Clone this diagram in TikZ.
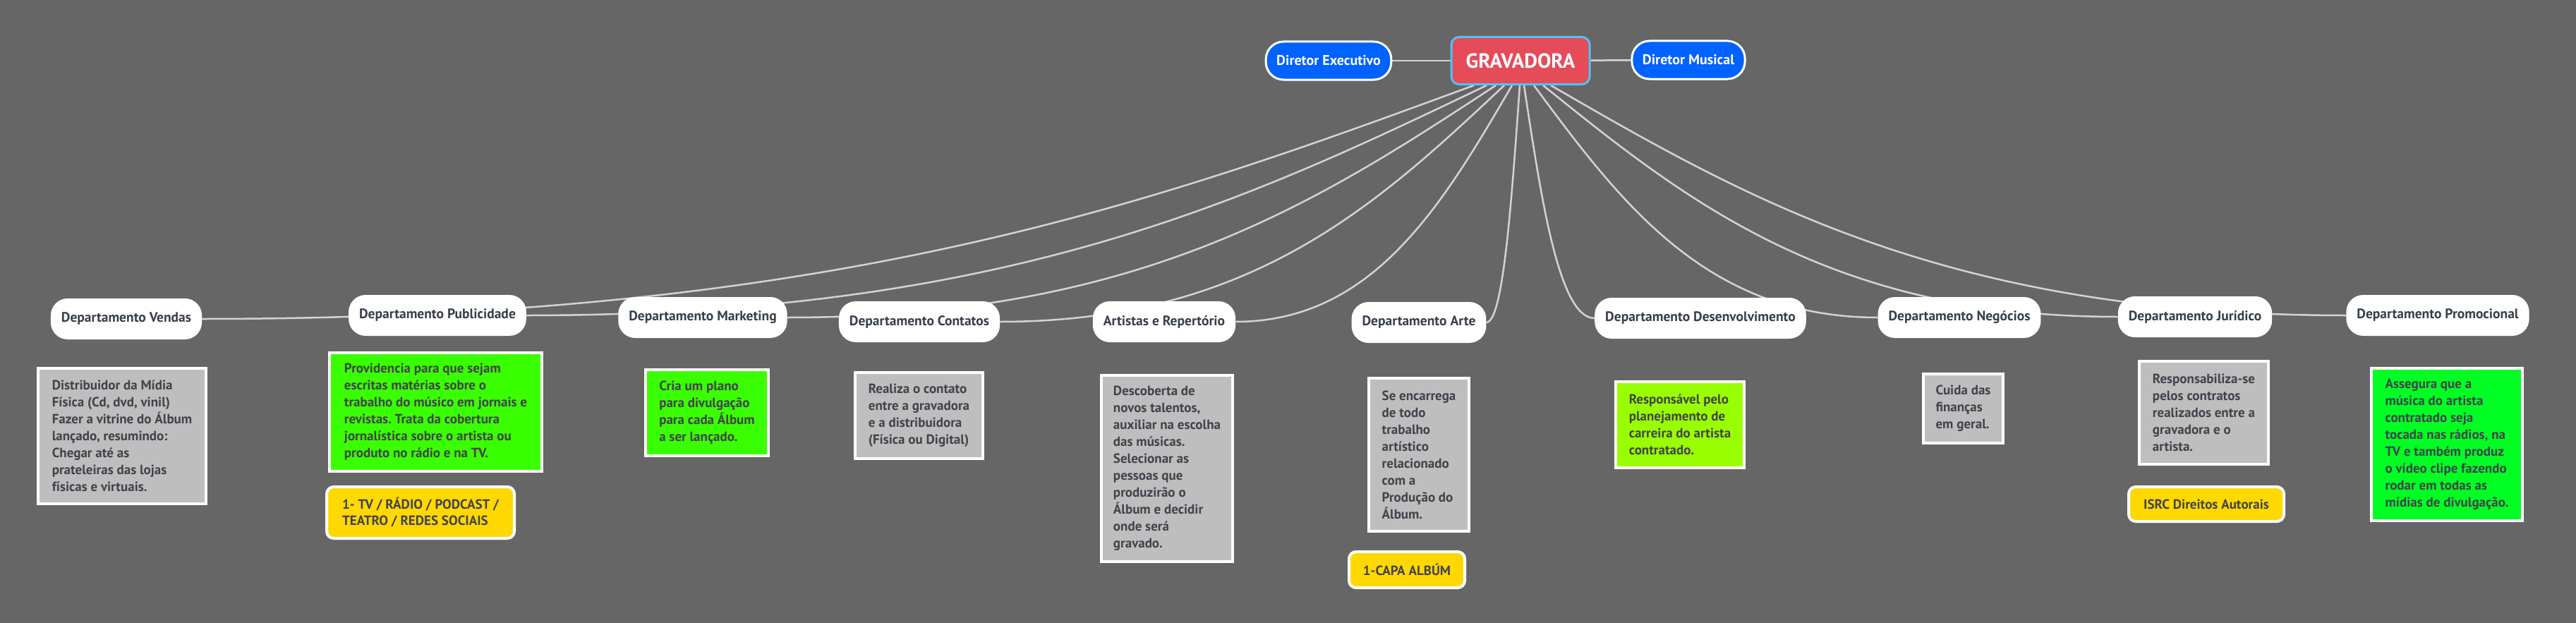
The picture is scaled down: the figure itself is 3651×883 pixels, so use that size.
\documentclass[tikz,border=0pt]{standalone}
\usepackage{fontspec}
\setmainfont{PT Sans}
\frenchspacing
\usetikzlibrary{calc}
\definecolor{mapbg}{RGB}{102,102,102}
\definecolor{linkgray}{RGB}{208,212,216}
\definecolor{gravred}{RGB}{230,75,90}
\definecolor{gravedge}{RGB}{79,195,247}
\definecolor{dirblue}{RGB}{0,98,255}
\definecolor{depttext}{RGB}{55,63,75}
\definecolor{desctext}{RGB}{66,66,76}
\definecolor{descgray}{RGB}{190,190,190}
\definecolor{descgreen}{RGB}{57,255,0}
\definecolor{promogreen}{RGB}{0,255,34}
\definecolor{desclime}{RGB}{153,255,0}
\definecolor{tagyellow}{RGB}{255,216,0}
\pgfdeclarelayer{back}
\pgfdeclarelayer{links}
\pgfsetlayers{back,links,main}
\tikzset{
    rootstyle/.style={rectangle, rounded corners=11pt, draw=gravedge, fill=gravred, line width=3pt, minimum width=196pt, minimum height=67pt, font=\fontsize{29}{34}\selectfont\bfseries, text=white},
    dirstyle/.style={rectangle, rounded corners=25pt, draw=white, line width=3pt, fill=dirblue, minimum height=54pt, inner xsep=15pt, font=\fontsize{20}{24}\selectfont\bfseries, text=white},
    deptstyle/.style={rectangle, rounded corners=24pt, fill=white, minimum height=58pt, inner xsep=15pt, font=\fontsize{19.5}{23}\selectfont\bfseries, text=depttext},
    descbox/.style={rectangle, draw=white, line width=4pt, fill=#1, anchor=north west, align=left, inner xsep=8pt, font=\fontsize{19}{24}\selectfont\bfseries, text=desctext},
    tagbox/.style={rectangle, rounded corners=10pt, draw=white, line width=4pt, fill=tagyellow, anchor=north west, align=left, inner xsep=8pt, font=\fontsize{19}{23}\selectfont\bfseries, text=desctext},
    link/.style={draw=linkgray, line width=2.5pt},
    branch/.style={link, to path={let \p1=(\tikztostart), \p2=(\tikztotarget) in .. controls ({\x1+0.25*(\x2-\x1)},{\y1+0.5*(\y2-\y1)}) and ({\x2+0.5*(\x1-\x2)},\y2) .. (\tikztotarget)}}
}

\begin{document}
\begin{tikzpicture}[x=1pt, y=-1pt]
    \useasboundingbox (0,0) rectangle (3651,883);
    \begin{pgfonlayer}{back}
        \fill[mapbg] (0,0) rectangle (3651,883);
    \end{pgfonlayer}

    % Root and directors
    \node[rootstyle] (grav) at (2155,86) {GRAVADORA};
    \node[dirstyle] (dexec) at (1883,86) {Diretor Executivo};
    \node[dirstyle] (dmus) at (2393,85) {Diretor Musical};

    % Departments
    \node[deptstyle] (vendas) at (179,452) {Departamento Vendas};
    \node[deptstyle] (public) at (620,447) {Departamento Publicidade};
    \node[deptstyle] (market) at (996,450) {Departamento Marketing};
    \node[deptstyle] (contat) at (1303,456) {Departamento Contatos};
    \node[deptstyle] (artist) at (1650,456) {Artistas e Repertório};
    \node[deptstyle] (arte) at (2011,457) {Departamento Arte};
    \node[deptstyle] (desenv) at (2410,451) {Departamento Desenvolvimento};
    \node[deptstyle] (negoc) at (2777,450) {Departamento Negócios};
    \node[deptstyle] (jurid) at (3111,449) {Departamento Jurídico};
    \node[deptstyle] (promo) at (3455,447) {Departamento Promocional};

    % Descriptions
    \node[descbox=descgray, minimum width=238pt, minimum height=192pt] (vendasdesc) at (52,520) {Distribuidor da Mídia\\Física (Cd, dvd, vinil)\\Fazer a vitrine do Álbum\\lançado, resumindo:\\Chegar até as\\prateleiras das lojas\\físicas e virtuais.};
    \node[descbox=descgreen, minimum width=301pt, minimum height=168pt] (publicdesc) at (465,498) {Providencia para que sejam\\escritas matérias sobre o\\trabalho do músico em jornais e\\revistas. Trata da cobertura\\jornalística sobre o artista ou\\produto no rádio e na TV.};
    \node[tagbox, minimum width=266pt, minimum height=73pt] (publictag) at (461,688) {1- TV / RÁDIO / PODCAST /\\TEATRO / REDES SOCIAIS};
    \node[descbox=descgreen, minimum width=174pt, minimum height=122pt] (marketdesc) at (913,522) {Cria um plano\\para divulgação\\para cada Álbum\\a ser lançado.};
    \node[descbox=descgray, minimum width=181pt, minimum height=122pt] (contatdesc) at (1210,526) {Realiza o contato\\entre a gravadora\\e a distribuidora\\(Física ou Digital)};
    \node[descbox=descgray, minimum width=186pt, minimum height=264pt] (artistdesc) at (1559,530) {Descoberta de\\novos talentos,\\auxiliar na escolha\\das músicas.\\Selecionar as\\pessoas que\\produzirão o\\Álbum e decidir\\onde será\\gravado.};
    \node[descbox=descgray, minimum width=142pt, minimum height=217pt] (artedesc) at (1938,534) {Se encarrega\\de todo\\trabalho\\artístico\\relacionado\\com a\\Produção do\\Álbum.};
    \node[tagbox, minimum width=164pt, minimum height=51pt] (artetag) at (1910,780) {1-CAPA ALBÚM};
    \node[descbox=desclime, minimum width=182pt, minimum height=122pt] (desenvdesc) at (2288,539) {Responsável pelo\\planejamento de\\carreira do artista\\contratado.};
    \node[descbox=descgray, minimum width=113pt, minimum height=98pt] (negocdesc) at (2724,528) {Cuida das\\finanças\\em geral.};
    \node[descbox=descgray, minimum width=183pt, minimum height=146pt] (juriddesc) at (3030,510) {Responsabiliza-se\\pelos contratos\\realizados entre a\\gravadora e o\\artista.};
    \node[tagbox, minimum width=220pt, minimum height=49pt] (juridtag) at (3015,688) {ISRC Direitos Autorais};
    \node[descbox=promogreen, minimum width=214pt, minimum height=216pt] (promodesc) at (3359,520) {Assegura que a\\música do artista\\contratado seja\\tocada nas rádios, na\\TV e também produz\\o vídeo clipe fazendo\\rodar em todas as\\mídias de divulgação.};

    % Connectors behind the nodes
    \begin{pgfonlayer}{links}
        \draw[link] (dexec) -- (grav);
        \draw[link] (dmus) -- (grav);
        \draw[branch] (grav.south) ++(-66,0) to (vendas.east);
        \draw[branch] (grav.south) ++(-48,0) to (public.east);
        \draw[branch] (grav.south) ++(-35,0) to (market.east);
        \draw[branch] (grav.south) ++(-23,0) to (contat.east);
        \draw[branch] (grav.south) ++(-12,0) to (artist.east);
        \draw[branch] (grav.south) ++(-1,0) to (arte.east);
        \draw[branch] (grav.south) ++(5,0) to (desenv.west);
        \draw[branch] (grav.south) ++(19,0) to (negoc.west);
        \draw[branch] (grav.south) ++(32,0) to (jurid.west);
        \draw[branch] (grav.south) ++(43,0) to (promo.west);
    \end{pgfonlayer}
\end{tikzpicture}
\end{document}
